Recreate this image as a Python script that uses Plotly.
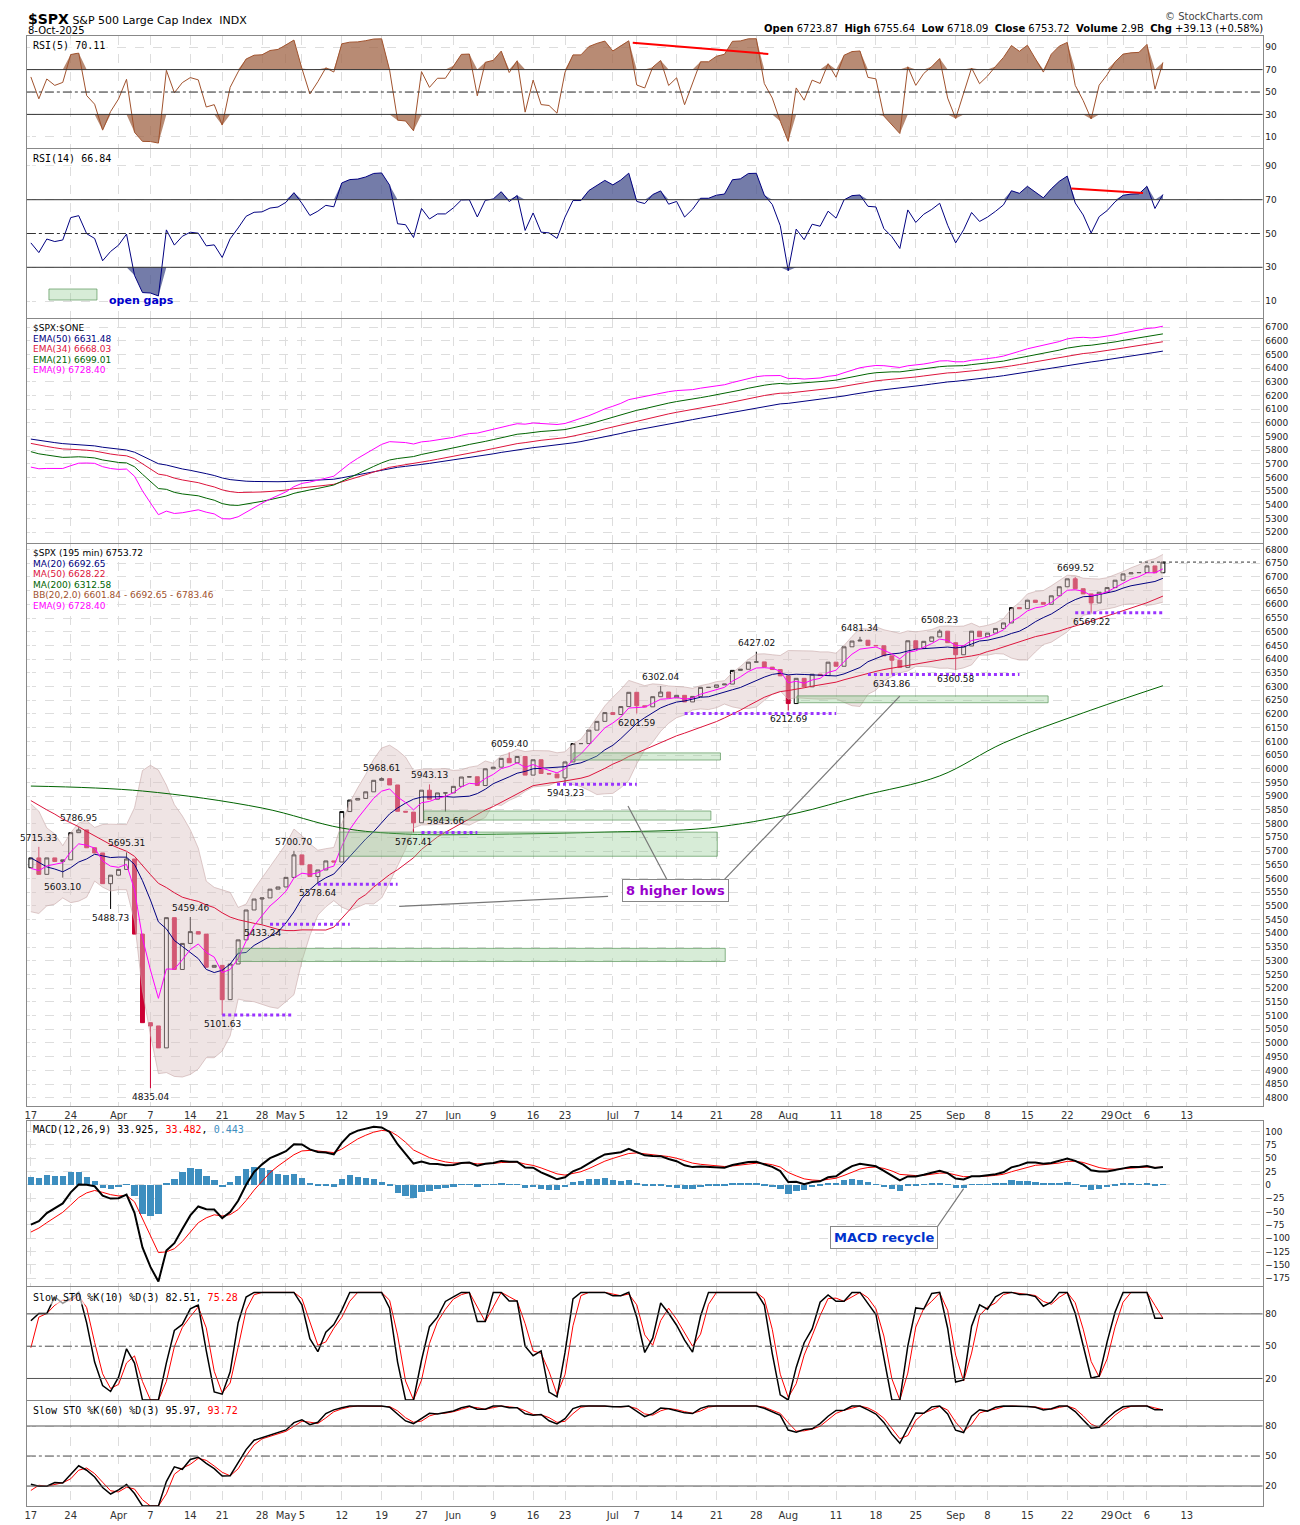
import numpy as np
import pandas as pd
import plotly.graph_objects as go
from plotly.subplots import make_subplots

# daily closes before the shown window (warm-up for the indicators)
pre_closes = [5872, 5867, 5930, 5974, 6040, 6037, 5970, 5906, 5882,
              5868, 5942, 5975, 5909, 5918, 5827, 5836, 5842, 5949, 5937, 5997,
              6049, 6086, 6119, 6101, 6012, 6067, 6039, 6071, 6040,
              5994, 6037, 6061, 6083, 6026, 6066, 6068, 6052, 6115, 6115,
              6129, 6144, 6117, 5983, 5983, 5955, 5956, 5861, 5955,
              5849, 5778, 5843, 5739, 5770, 5615, 5572, 5599, 5522, 5639]

closes = [5675, 5615, 5675, 5662, 5668, 5767, 5777, 5712, 5693, 5581, 5612,
          5633, 5671, 5397, 5074, 5062, 4982, 5457, 5268, 5363, 5406, 5397, 5276, 5283,
          5158, 5288, 5376, 5485, 5525, 5529, 5561, 5569,
          5604, 5686, 5650, 5607, 5631, 5664, 5660, 5844, 5886, 5892, 5916, 5958,
          5964, 5941, 5845, 5842, 5803, 5922, 5889, 5912, 5912,
          5936, 5970, 5971, 5939, 6000, 6006, 6038, 6022, 6045, 5977, 6033, 5983,
          5981, 5967, 6025, 6092, 6092, 6141, 6173, 6205,
          6198, 6227, 6279, 6230, 6226, 6263, 6280, 6259, 6268, 6244, 6264, 6297,
          6297, 6306, 6309, 6359, 6363, 6389, 6390, 6371, 6362, 6339,
          6238, 6330, 6299, 6345, 6340, 6389, 6374, 6445, 6466, 6469, 6450, 6449,
          6412, 6396, 6370, 6467, 6439, 6465, 6481, 6502, 6460,
          6416, 6448, 6502, 6482, 6495, 6512, 6532, 6588, 6584, 6615, 6607, 6600,
          6631, 6664, 6693, 6657, 6638, 6605, 6644, 6661, 6688,
          6711, 6715, 6716, 6740, 6715, 6754]

holidays = ['2025-04-18', '2025-05-26', '2025-06-19', '2025-07-04', '2025-09-01']
dates = [d for d in pd.bdate_range('2025-03-17', '2025-10-15') if d.strftime('%Y-%m-%d') not in holidays]
n = len(closes)

# labelled swing highs / lows
swing_labels = [('2025-03-18', 5715.33, 'a'), ('2025-03-25', 5786.95, 'a'), ('2025-03-21', 5603.10, 'b'),
                ('2025-04-02', 5695.31, 'a'), ('2025-03-31', 5488.73, 'b'), ('2025-04-07', 4835.04, 'b'),
                ('2025-04-14', 5459.46, 'a'), ('2025-04-21', 5101.63, 'b'), ('2025-04-28', 5433.24, 'b'),
                ('2025-05-02', 5700.70, 'a'), ('2025-05-07', 5578.64, 'b'), ('2025-05-19', 5968.61, 'a'),
                ('2025-05-23', 5767.41, 'b'), ('2025-05-28', 5943.13, 'a'), ('2025-05-30', 5843.66, 'b'),
                ('2025-06-11', 6059.40, 'a'), ('2025-06-23', 5943.23, 'b'), ('2025-07-10', 6302.04, 'a'),
                ('2025-07-07', 6201.59, 'b'), ('2025-07-28', 6427.02, 'a'), ('2025-08-01', 6212.69, 'b'),
                ('2025-08-14', 6481.34, 'a'), ('2025-08-20', 6343.86, 'b'), ('2025-08-28', 6508.23, 'a'),
                ('2025-09-02', 6360.58, 'b'), ('2025-09-23', 6699.52, 'a'), ('2025-09-25', 6569.22, 'b')]

# higher lows: (level, start idx, end idx)
higher_lows = [(5101.63, 24, 33), (5433.24, 30, 40), (5578.64, 36, 46), (5767.41, 49, 56),
               (5943.23, 66, 76), (6201.59, 82, 101), (6343.86, 105, 124), (6569.22, 131, 142)]

# open gaps: (x0, x1, y0, y1)
open_gaps = [(68, 86.5, 6032, 6058), (49.3, 85.3, 5813, 5846), (38.7, 86.1, 5681, 5769),
             (26, 87.1, 5297, 5345), (96.1, 127.6, 6241, 6266)]

# MA(200)
ma200_idx = [0, 14, 29, 39, 47, 60, 72, 85, 96, 104, 114, 122, 132, 142]
ma200_val = [5937, 5919, 5857, 5784, 5762, 5762, 5769, 5784, 5838, 5900, 5974, 6094, 6204, 6303]

tick_dates = ['2025-03-17', '2025-03-24', '2025-04-01', '2025-04-07', '2025-04-14', '2025-04-21', '2025-04-28',
              '2025-05-01', '2025-05-05', '2025-05-12', '2025-05-19', '2025-05-27', '2025-06-02', '2025-06-09',
              '2025-06-16', '2025-06-23', '2025-07-01', '2025-07-07', '2025-07-14', '2025-07-21', '2025-07-28',
              '2025-08-01', '2025-08-11', '2025-08-18', '2025-08-25', '2025-09-02', '2025-09-08', '2025-09-15',
              '2025-09-22', '2025-09-29', '2025-10-01', '2025-10-06', '2025-10-13']
tick_text = ['17', '24', 'Apr', '7', '14', '21', '28', 'May', '5', '12', '19', '27', 'Jun', '9', '16', '23',
             'Jul', '7', '14', '21', '28', 'Aug', '11', '18', '25', 'Sep', '8', '15', '22', '29', 'Oct', '6', '13']

pos = {d.strftime('%Y-%m-%d'): i for i, d in enumerate(dates)}
tick_vals = [pos[d] for d in tick_dates]

# ---- indicators (the chart uses 195-min bars = 2 per day, so periods are halved on daily data)
s = pd.Series(pre_closes + closes, dtype=float)
k0 = len(pre_closes)


def rsi(x, p):
    d = x.diff()
    up = d.clip(lower=0).ewm(alpha=1 / p, adjust=False).mean()
    dn = (-d.clip(upper=0)).ewm(alpha=1 / p, adjust=False).mean()
    return 100 - 100 / (1 + up / dn)


def ema(x, p):
    return x.ewm(span=p, adjust=False).mean()


def slow_sto(x, p):
    lo = x.rolling(p, min_periods=1).min()
    hi = x.rolling(p, min_periods=1).max()
    fk = (x - lo) / (hi - lo).replace(0, np.nan) * 100
    k = fk.rolling(2, min_periods=1).mean()
    return k, k.rolling(2, min_periods=1).mean()


def cut(x):
    return x.iloc[k0:].to_numpy()


x = np.arange(n)
c = np.array(closes, dtype=float)
o = np.concatenate([[pre_closes[-1]], c[:-1]])
hi = np.maximum(o, c)
lo = np.minimum(o, c)
for d, v, p in swing_labels:
    i = pos[d]
    if p == 'a':
        hi[i] = max(hi[i], v)
    else:
        lo[i] = min(lo[i], v)

rsi5, rsi14 = cut(rsi(s, 3)), cut(rsi(s, 7))
ema9d, ema21, ema34, ema50 = [cut(ema(s, p)) for p in (9, 21, 34, 50)]
ema9 = cut(ema(s, 4.5))
ma20 = s.rolling(10).mean()
sd20 = s.rolling(10).std(ddof=0)
bb_up, bb_lo = cut(ma20 + 2 * sd20), cut(ma20 - 2 * sd20)
ma20 = cut(ma20)
ma50 = cut(s.rolling(25).mean())
macd = ema(s, 6) - ema(s, 13)
sig = ema(macd, 4.5)
hist = cut(macd - sig)
macd, sig = cut(macd), cut(sig)
k10, d10 = [cut(v) for v in slow_sto(s, 6)]
k60, d60 = [cut(v) for v in slow_sto(s, 30)]

# ---- figure
fig = make_subplots(rows=7, cols=1, shared_xaxes=True, vertical_spacing=0)
H = 1525.0
doms = [(28, 140), (141, 310), (311, 535), (536, 1098), (1113, 1278), (1279, 1392), (1393, 1498)]
for r, (t, b) in enumerate(doms, 1):
    fig.layout['yaxis' if r == 1 else f'yaxis{r}'].domain = [1 - b / H, 1 - t / H]


def band(row, y, level, color, above):
    yy = np.maximum(y, level) if above else np.minimum(y, level)
    fig.add_trace(go.Scatter(x=x, y=[level] * n, mode='lines', line=dict(width=0), hoverinfo='skip'), row=row, col=1)
    fig.add_trace(go.Scatter(x=x, y=yy, mode='lines', line=dict(width=0), fill='tonexty',
                             fillcolor=color, hoverinfo='skip'), row=row, col=1)


# RSI panels
for row, y, lc, fc in [(1, rsi5, '#a0522d', 'rgba(160,100,70,0.75)'), (2, rsi14, '#000080', 'rgba(70,80,140,0.75)')]:
    band(row, y, 70, fc, True)
    band(row, y, 30, fc, False)
    fig.add_trace(go.Scatter(x=x, y=y, mode='lines', line=dict(color=lc, width=1)), row=row, col=1)
    for lv, dash in [(70, 'solid'), (30, 'solid'), (50, 'dashdot')]:
        fig.add_hline(y=lv, line=dict(color='#333', width=1, dash=dash), row=row, col=1)

fig.add_shape(type='line', x0=75.5, x1=92.5, y0=94, y1=84, line=dict(color='red', width=2), row=1, col=1)
fig.add_shape(type='line', x0=130.5, x1=139.5, y0=76.6, y1=74, line=dict(color='red', width=2), row=2, col=1)

# EMA panel
for y, col in [(ema50, '#000080'), (ema34, '#dc143c'), (ema21, '#006400'), (ema9d, '#ff00ff')]:
    fig.add_trace(go.Scatter(x=x, y=y, mode='lines', line=dict(color=col, width=1)), row=3, col=1)

# price panel
fig.add_trace(go.Scatter(x=x, y=bb_up, mode='lines', line=dict(color='#c8a8a8', width=0.6)), row=4, col=1)
fig.add_trace(go.Scatter(x=x, y=bb_lo, mode='lines', line=dict(color='#c8a8a8', width=0.6),
                         fill='tonexty', fillcolor='rgba(220,195,195,0.45)'), row=4, col=1)
for g in open_gaps:
    fig.add_shape(type='rect', x0=g[0], x1=g[1], y0=g[2], y1=g[3], fillcolor='rgba(140,200,140,0.35)',
                  line=dict(color='rgba(90,150,90,0.7)', width=1), row=4, col=1)
fig.add_trace(go.Scatter(x=ma200_idx, y=ma200_val, mode='lines', line=dict(color='#006400', width=1, shape='spline')), row=4, col=1)
fig.add_trace(go.Scatter(x=x, y=ma50, mode='lines', line=dict(color='#dc143c', width=1)), row=4, col=1)
fig.add_trace(go.Scatter(x=x, y=ma20, mode='lines', line=dict(color='#000080', width=1)), row=4, col=1)
fig.add_trace(go.Scatter(x=x, y=ema9, mode='lines', line=dict(color='#ff00ff', width=1)), row=4, col=1)
fig.add_trace(go.Candlestick(x=x, open=o, high=hi, low=lo, close=c,
                             increasing=dict(line=dict(color='black', width=1), fillcolor='white'),
                             decreasing=dict(line=dict(color='#cc0033', width=1), fillcolor='#cc0033')), row=4, col=1)
for lv, a, b in higher_lows:
    fig.add_shape(type='line', x0=a, x1=b, y0=lv, y1=lv, line=dict(color='#9933ff', width=3, dash='dot'), row=4, col=1)
fig.add_shape(type='line', x0=139, x1=154, y0=closes[-1], y1=closes[-1],
              line=dict(color='#333', width=1, dash='dot'), row=4, col=1)
for d, v, p in swing_labels:
    fig.add_annotation(x=pos[d], y=v, text=f'{v:.2f}', showarrow=False, yshift=9 if p == 'a' else -9,
                       font=dict(size=9, color='#111'), row=4, col=1)
for (x0, y0, x1, y1) in [(46.2, 5498, 72.4, 5535), (74.9, 5864, 79.9, 5590), (86.8, 5590, 109, 6265)]:
    fig.add_shape(type='line', x0=x0, x1=x1, y0=y0, y1=y1, line=dict(color='#777', width=1.2), row=4, col=1)
fig.add_annotation(x=80.8, y=5557, text='<b>8 higher lows</b>', showarrow=False, bgcolor='white',
                   bordercolor='#888', borderwidth=1, borderpad=3, font=dict(size=13, color='#9900cc'), row=4, col=1)

# MACD
fig.add_trace(go.Bar(x=x, y=hist, marker=dict(color='#3d8ebf', line=dict(width=0)), width=0.8), row=5, col=1)
fig.add_trace(go.Scatter(x=x, y=sig, mode='lines', line=dict(color='red', width=1)), row=5, col=1)
fig.add_trace(go.Scatter(x=x, y=macd, mode='lines', line=dict(color='black', width=2)), row=5, col=1)
fig.add_shape(type='line', x0=113.6, x1=117, y0=-81, y1=-7, line=dict(color='#777', width=1.2), row=5, col=1)
fig.add_annotation(x=107, y=-99, text='<b>MACD recycle</b>', showarrow=False, bgcolor='white', bordercolor='#888',
                   borderwidth=1, borderpad=3, font=dict(size=13, color='#0033cc'), row=5, col=1)

# stochastics
for row, k, d in [(6, k10, d10), (7, k60, d60)]:
    fig.add_trace(go.Scatter(x=x, y=d, mode='lines', line=dict(color='red', width=1)), row=row, col=1)
    fig.add_trace(go.Scatter(x=x, y=k, mode='lines', line=dict(color='black', width=1.5)), row=row, col=1)
    for lv, dash in [(80, 'solid'), (20, 'solid'), (50, 'dashdot')]:
        fig.add_hline(y=lv, line=dict(color='#555', width=1, dash=dash), row=row, col=1)

# axes
grid = dict(showgrid=True, gridcolor='#dddddd', griddash='dash', gridwidth=1)
for r in range(1, 8):
    fig.update_xaxes(range=[-0.5, 154.5], tickvals=tick_vals, ticktext=tick_text, showline=True, linecolor='#888',
                     mirror=True, tickangle=0, tickfont=dict(size=10, color='#333'), domain=[0.013, 0.965],
                     **grid, row=r, col=1)
    fig.update_yaxes(side='right', showline=True, linecolor='#888', mirror=True, zeroline=False,
                     tickfont=dict(size=9, color='#222'), **grid, row=r, col=1)
fig.update_xaxes(showticklabels=True, rangeslider_visible=False, row=4, col=1)
fig.update_xaxes(showticklabels=True, row=7, col=1)
fig.update_xaxes(rangeslider_visible=False)
fig.update_yaxes(range=[0, 100], tickvals=[10, 30, 50, 70, 90], row=1, col=1)
fig.update_yaxes(range=[0, 100], tickvals=[10, 30, 50, 70, 90], row=2, col=1)
fig.update_yaxes(range=[5120, 6760], dtick=100, row=3, col=1)
fig.update_yaxes(range=[4770, 6820], dtick=50, row=4, col=1)
fig.update_yaxes(range=[-190, 120], dtick=25, row=5, col=1)
fig.update_yaxes(range=[0, 105], tickvals=[20, 50, 80], row=6, col=1)
fig.update_yaxes(range=[0, 105], tickvals=[20, 50, 80], row=7, col=1)


def paper_y(px):
    return 1 - px / H


fig.add_annotation(x=0.012, y=paper_y(1), xref='paper', yref='paper', xanchor='left', yanchor='top', showarrow=False,
                   text='<span style="font-size:14px"><b>$SPX</b></span> S&P 500 Large Cap Index  INDX',
                   font=dict(size=11, color='black'))
fig.add_annotation(x=0.012, y=paper_y(15), xref='paper', yref='paper', xanchor='left', yanchor='top', showarrow=False,
                   text='8-Oct-2025', font=dict(size=10, color='black'))
fig.add_annotation(x=0.967, y=paper_y(1), xref='paper', yref='paper', xanchor='right', yanchor='top', showarrow=False,
                   text='© StockCharts.com', font=dict(size=10, color='#444'))
fig.add_annotation(x=0.967, y=paper_y(13), xref='paper', yref='paper', xanchor='right', yanchor='top', showarrow=False,
                   text='<b>Open</b> 6723.87  <b>High</b> 6755.64  <b>Low</b> 6718.09  <b>Close</b> 6753.72  <b>Volume</b> 2.9B  <b>Chg</b> +39.13 (+0.58%)',
                   font=dict(size=10, color='black'))

legends = [
    (30, ['RSI(5) 70.11'], ['black']),
    (143, ['RSI(14) 66.84'], ['black']),
    (313, ['$SPX:$ONE', 'EMA(50) 6631.48', 'EMA(34) 6668.03', 'EMA(21) 6699.01', 'EMA(9) 6728.40'],
     ['black', '#000080', '#dc143c', '#006400', '#ff00ff']),
    (538, ['$SPX (195 min) 6753.72', 'MA(20) 6692.65', 'MA(50) 6628.22', 'MA(200) 6312.58',
           'BB(20,2.0) 6601.84 - 6692.65 - 6783.46', 'EMA(9) 6728.40'],
     ['black', '#000080', '#dc143c', '#006400', '#a0522d', '#ff00ff']),
    (1114, ['MACD(12,26,9) 33.925, <span style="color:red">33.482</span>, <span style="color:#3d8ebf">0.443</span>'], ['black']),
    (1282, ['Slow STO %K(10) %D(3) 82.51, <span style="color:red">75.28</span>'], ['black']),
    (1395, ['Slow STO %K(60) %D(3) 95.97, <span style="color:red">93.72</span>'], ['black']),
]
for top, lines, cols in legends:
    big = top < 200 or top > 1100
    step = 10.5
    for j, (t, col) in enumerate(zip(lines, cols)):
        fig.add_annotation(x=0.016, y=paper_y(top + j * step), xref='paper', yref='paper', xanchor='left',
                           yanchor='top', showarrow=False, text=t, bgcolor='rgba(255,255,255,0.6)',
                           font=dict(size=10 if big else 9, color=col, family='DejaVu Sans Mono' if big else 'Verdana, DejaVu Sans'))

fig.add_shape(type='rect', xref='paper', yref='paper', x0=0.03, x1=0.067, y0=paper_y(292), y1=paper_y(281),
              fillcolor='rgba(140,200,140,0.35)', line=dict(color='rgba(90,150,90,0.7)', width=1))
fig.add_annotation(x=0.075, y=paper_y(284), xref='paper', yref='paper', xanchor='left', showarrow=False,
                   text='<b>open gaps</b>', font=dict(size=11, color='#0000cc'))

fig.update_layout(width=1300, height=1525, margin=dict(l=0, r=0, t=0, b=0), showlegend=False,
                  plot_bgcolor='white', paper_bgcolor='white', bargap=0,
                  font=dict(family='DejaVu Sans, Verdana, sans-serif'))
fig.write_html('out.html')
